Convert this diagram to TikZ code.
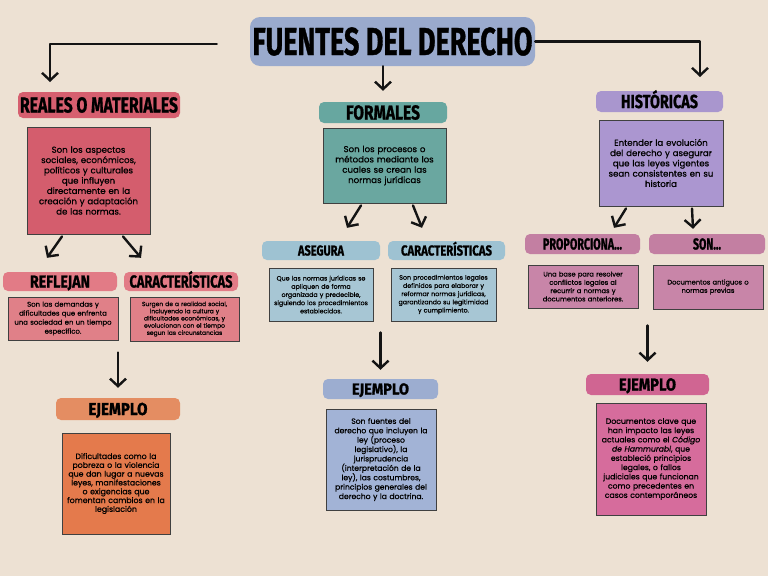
\documentclass[tikz,border=0pt]{standalone}
\usepackage{fontspec}
\usepackage{graphicx}
\setmainfont{Poppins}[FakeBold=0.7]
\newfontfamily\headfont{Fira Sans}[FakeBold=1.2]
\usetikzlibrary{arrows.meta,calc}
\definecolor{bgc}{HTML}{EDE1D3}
\definecolor{cTitle}{HTML}{9AAACD}
\definecolor{cRealH}{HTML}{D65F6F}
\definecolor{cRealD}{HTML}{D45D6D}
\definecolor{cRealSH}{HTML}{E27B86}
\definecolor{cRealSD}{HTML}{E08088}
\definecolor{cOrH}{HTML}{E48D62}
\definecolor{cOrD}{HTML}{E47A4C}
\definecolor{cFormH}{HTML}{67A7A0}
\definecolor{cFormD}{HTML}{6AA7A0}
\definecolor{cLbH}{HTML}{9EC2D2}
\definecolor{cLbD}{HTML}{A7C6D4}
\definecolor{cBlH}{HTML}{9CADD0}
\definecolor{cBlD}{HTML}{A2B3D6}
\definecolor{cHisH}{HTML}{A996CE}
\definecolor{cHisD}{HTML}{AB96D0}
\definecolor{cMauH}{HTML}{C37FA2}
\definecolor{cMauD}{HTML}{C885A8}
\definecolor{cPkH}{HTML}{D06592}
\definecolor{cPkD}{HTML}{D66C9C}
\newcommand\hd[3]{\resizebox{#1}{#2}{\headfont\bfseries\raisebox{0pt}[\fontcharht\font`E][0pt]{#3}}}
\tikzset{
  conn/.style={line width=2.4pt, draw=black!92, line cap=round, line join=round,
    -{Straight Barb[length=7.5pt,width=16pt]}},
  hbox/.style={rounded corners=5pt, inner sep=0pt, text=black},
  dbox/.style={draw=black!75, line width=0.9pt, inner sep=0pt, align=center, text=black},
}
\begin{document}
\begin{tikzpicture}[x=1pt,y=-1pt]
\fill[bgc] (0,0) rectangle (768,576);
\useasboundingbox (0,0) rectangle (768,576);

% title
\node[hbox, fill=cTitle, minimum width=285pt, minimum height=49pt, rounded corners=10pt] (title) at (392.5,41.5) {\hd{280pt}{27pt}{FUENTES DEL DERECHO}};

% headers level 1
\node[hbox, fill=cRealH, minimum width=162pt, minimum height=26pt] (reales) at (99,105) {\hd{158pt}{15pt}{REALES O MATERIALES}};
\node[hbox, fill=cFormH, minimum width=128pt, minimum height=21pt] (formales) at (383,112.5) {\hd{74pt}{14pt}{FORMALES}};
\node[hbox, fill=cHisH, minimum width=127pt, minimum height=21pt] (historicas) at (659.5,101.5) {\hd{77pt}{13pt}{HISTÓRICAS}};

% level 1 descriptions
\node[dbox, fill=cRealD, text width=123pt, minimum height=107pt, font={\fontsize{8.6}{10.3}\selectfont}] (rdesc) at (88.5,180.5)
  {Son los aspectos\\sociales, económicos,\\políticos y culturales\\que influyen\\directamente en la\\creación y adaptación\\de las normas.};
\node[dbox, fill=cFormD, text width=123pt, minimum height=75pt, font={\fontsize{8.6}{10.3}\selectfont}] (fdesc) at (384.5,165.5)
  {Son los procesos o\\métodos mediante los\\cuales se crean las\\normas jurídicas};
\node[dbox, fill=cHisD, text width=124pt, minimum height=86pt, font={\fontsize{8.6}{10.3}\selectfont}] (hdesc) at (661,163)
  {Entender la evolución\\del derecho y asegurar\\que las leyes vigentes\\sean consistentes en su\\historia};

% level 2 headers
\node[hbox, fill=cRealSH, minimum width=114pt, minimum height=19pt] (reflejan) at (60,281.5) {\hd{60pt}{12pt}{REFLEJAN}};
\node[hbox, fill=cRealSH, minimum width=114pt, minimum height=19pt] (rcar) at (181,281.5) {\hd{103pt}{12pt}{CARACTERÍSTICAS}};
\node[hbox, fill=cLbH, minimum width=118pt, minimum height=19pt] (asegura) at (321,250.5) {\hd{46pt}{10pt}{ASEGURA}};
\node[hbox, fill=cLbH, minimum width=117pt, minimum height=19pt] (fcar) at (446.5,250.5) {\hd{91pt}{10pt}{CARACTERÍSTICAS}};
\node[hbox, fill=cMauH, minimum width=115pt, minimum height=20pt] (prop) at (582.5,244) {\hd{79pt}{11pt}{PROPORCIONA...}};
\node[hbox, fill=cMauH, minimum width=116pt, minimum height=20pt] (son) at (707,244) {\hd{28pt}{11pt}{SON...}};

% level 2 descriptions
\node[dbox, fill=cRealSD, text width=110pt, minimum height=43pt, font={\fontsize{6.9}{9}\selectfont}] (rref) at (63,318.5)
  {Son las demandas y\\dificultades que enfrenta\\una sociedad en un tiempo\\específico.};
\node[dbox, fill=cRealSD, text width=109pt, minimum height=44pt, font={\fontsize{6}{7.2}\selectfont}] (rcard) at (184.5,319)
  {Surgen de a realidad social,\\incluyendo la cultura y\\dificultades económicas, y\\evolucionan con el tiempo\\segun las circunstancias};
\node[dbox, fill=cLbD, text width=104pt, minimum height=53pt, font={\fontsize{6.3}{8.2}\selectfont}] (asegd) at (321,294.5)
  {Que las normas jurídicas se\\apliquen de forma\\organizada y predecible,\\siguiendo los procedimientos\\establecidos.};
\node[dbox, fill=cLbD, text width=105pt, minimum height=53pt, font={\fontsize{6.3}{8.2}\selectfont}] (fcard) at (443.5,294.5)
  {Son procedimientos legales\\definidos para elaborar y\\reformar normas jurídicas,\\garantizando su legitimidad\\y cumplimiento.};
\node[dbox, fill=cMauD, text width=110pt, minimum height=43pt, font={\fontsize{6.7}{8.3}\selectfont}] (propd) at (583,286.5)
  {Una base para resolver\\conflictos legales al\\recurrir a normas y\\documentos anteriores.};
\node[dbox, fill=cMauD, text width=110pt, minimum height=44pt, font={\fontsize{6.7}{8.3}\selectfont}] (sond) at (708,287)
  {Documentos antiguos o\\normas previas};

% ejemplo headers
\node[hbox, fill=cOrH, minimum width=124pt, minimum height=22pt] (oejh) at (118,409) {\hd{59pt}{12pt}{EJEMPLO}};
\node[hbox, fill=cBlH, minimum width=115pt, minimum height=20pt] (bejh) at (380.5,389) {\hd{57pt}{11pt}{EJEMPLO}};
\node[hbox, fill=cPkH, minimum width=123pt, minimum height=21pt] (kejh) at (647.5,384.5) {\hd{57pt}{12pt}{EJEMPLO}};

% ejemplo descriptions
\node[dbox, fill=cOrD, text width=108pt, minimum height=101pt, font={\fontsize{7.8}{8.8}\selectfont}] (oejd) at (116,483.5)
  {Dificultades como la\\pobreza o la violencia\\que dan lugar a nuevas\\leyes, manifestaciones\\o exigencias que\\fomentan cambios en la\\legislación};
\node[dbox, fill=cBlD, text width=110pt, minimum height=101pt, font={\fontsize{7.6}{9.4}\selectfont}] (bejd) at (381,459.5)
  {Son fuentes del\\derecho que incluyen la\\ley (proceso\\legislativo), la\\jurisprudencia\\(interpretación de la\\ley), las costumbres,\\principios generales del\\derecho y la doctrina.};
\node[dbox, fill=cPkD, text width=110pt, minimum height=112pt, font={\fontsize{7.7}{9.25}\selectfont}] (kejd) at (651,459)
  {Documentos clave que\\han impacto las leyes\\actuales como el \textit{Código}\\\textit{de Hammurabi}, que\\estableció principios\\legales, o fallos\\judiciales que funcionan\\como precedentes en\\casos contemporáneos};

% connectors from title
\coordinate (la) at (50,82);
\coordinate (ra) at (700,77);
\draw[conn, shorten <=33pt] ([yshift=-2.5pt]title.west) -| (la);
\draw[conn] (title.east) -| (ra);
\draw[conn, shorten >=11pt] (title.south -| formales.north) -- (formales.north);

% diagonal arrows
\draw[conn] ($(rdesc.south)+(-26.5,2)$) -- ($(reflejan.north)+(-13,-14)$);
\draw[conn] ($(rdesc.south)+(34.5,2)$) -- ($(rcar.north)+(-40,-14)$);
\draw[conn] ($(fdesc.south)+(-23.5,2)$) -- ($(asegura.north)+(26,-13)$);
\draw[conn] ($(fdesc.south)+(28.5,2)$) -- ($(fcar.north)+(-24.5,-13)$);
\draw[conn] ($(hdesc.south)+(-35,2)$) -- ($(prop.north)+(31.5,-6)$);
\draw[conn] ($(hdesc.south)+(31,2)$) -- ($(son.north)+(-14,-5)$);

% down arrows to ejemplos
\draw[conn, shorten <=12pt, shorten >=10pt] (rref.south -| oejh.north) -- (oejh.north);
\draw[conn, shorten <=11pt, shorten >=9pt] (asegd.south -| bejh.north) -- (bejh.north);
\draw[conn, shorten <=17pt, shorten >=12pt] (propd.south -| kejh.north) -- (kejh.north);
\end{tikzpicture}
\end{document}
